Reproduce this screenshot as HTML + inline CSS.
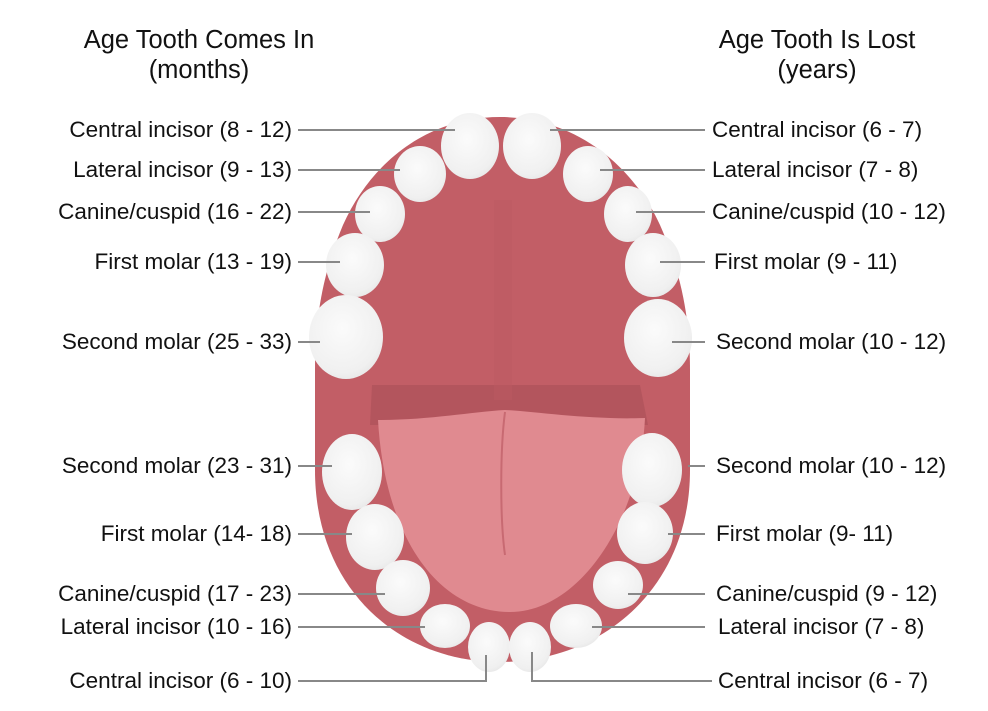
<!DOCTYPE html>
<html><head><style>
body{margin:0;background:#fff;width:988px;height:711px;overflow:hidden}
svg{display:block}
text{font-family:"Liberation Sans",Arial,sans-serif;fill:#111}
</style></head><body>
<svg width="988" height="711" viewBox="0 0 988 711">
<defs>
<radialGradient id="t" cx="0.45" cy="0.4" r="0.7"><stop offset="0" stop-color="#fbfbfb"/><stop offset="0.75" stop-color="#f0f0f0"/><stop offset="1" stop-color="#e2e2e2"/></radialGradient>
</defs>
<path d="M500,117 C570,117 630,160 660,225 C682,275 690,320 690,370 L690,470 C690,590 600,662 500,662 C400,662 315,590 315,470 L315,370 C315,320 322,275 343,225 C372,160 430,117 500,117Z" fill="#c25e66"/>
<path d="M372,385 L640,385 L648,425 L370,425Z" fill="#b3555d"/>
<path d="M494,200 L512,200 L512,400 L494,400Z" fill="#bb5a62" opacity="0.5"/>
<path d="M378,420 C430,420 470,412 505,410 C540,412 590,420 645,418 C640,520 580,612 510,612 C440,612 385,540 378,420Z" fill="#e08a90"/>
<path d="M505,412 C500,450 500,520 505,555" stroke="#c86a72" stroke-width="2" fill="none"/>
<g fill="url(#t)">
<ellipse cx="470" cy="146" rx="29" ry="33"/>
<ellipse cx="532" cy="146" rx="29" ry="33"/>
<ellipse cx="420" cy="174" rx="26" ry="28"/>
<ellipse cx="588" cy="174" rx="25" ry="28"/>
<ellipse cx="380" cy="214" rx="25" ry="28"/>
<ellipse cx="628" cy="214" rx="24" ry="28"/>
<ellipse cx="355" cy="265" rx="29" ry="32"/>
<ellipse cx="653" cy="265" rx="28" ry="32"/>
<ellipse cx="346" cy="337" rx="37" ry="42"/>
<ellipse cx="658" cy="338" rx="34" ry="39"/>
<ellipse cx="352" cy="472" rx="30" ry="38"/>
<ellipse cx="652" cy="470" rx="30" ry="37"/>
<ellipse cx="375" cy="537" rx="29" ry="33"/>
<ellipse cx="645" cy="533" rx="28" ry="31"/>
<ellipse cx="403" cy="588" rx="27" ry="28"/>
<ellipse cx="618" cy="585" rx="25" ry="24"/>
<ellipse cx="445" cy="626" rx="25" ry="22"/>
<ellipse cx="576" cy="626" rx="26" ry="22"/>
<ellipse cx="489" cy="647" rx="21" ry="25"/>
<ellipse cx="530" cy="647" rx="21" ry="25"/>
</g>
<g stroke="#888" stroke-width="2" fill="none">
<path d="M298,130H455M550,130H705"/>
<path d="M298,170H400M600,170H705"/>
<path d="M298,212H370M636,212H705"/>
<path d="M298,262H340M660,262H705"/>
<path d="M298,342H320M672,342H705"/>
<path d="M298,466H332M688,466H705"/>
<path d="M298,534H352M668,534H705"/>
<path d="M298,594H385M628,594H705"/>
<path d="M298,627H425M592,627H705"/>
<path d="M298,681H486V655M532,652V681H712"/>
</g>
<g font-size="25.5" text-anchor="middle">
<text x="199" y="48">Age Tooth Comes In</text>
<text x="199" y="78">(months)</text>
<text x="817" y="48">Age Tooth Is Lost</text>
<text x="817" y="78">(years)</text>
</g>
<g font-size="22.5" text-anchor="end">
<text x="292" y="137">Central incisor (8 - 12)</text>
<text x="292" y="177">Lateral incisor (9 - 13)</text>
<text x="292" y="219">Canine/cuspid (16 - 22)</text>
<text x="292" y="269">First molar (13 - 19)</text>
<text x="292" y="349">Second molar (25 - 33)</text>
<text x="292" y="473">Second molar (23 - 31)</text>
<text x="292" y="541">First molar (14- 18)</text>
<text x="292" y="601">Canine/cuspid (17 - 23)</text>
<text x="292" y="634">Lateral incisor (10 - 16)</text>
<text x="292" y="688">Central incisor (6 - 10)</text>
</g>
<g font-size="22.5">
<text x="712" y="137">Central incisor (6 - 7)</text>
<text x="712" y="177">Lateral incisor (7 - 8)</text>
<text x="712" y="219">Canine/cuspid (10 - 12)</text>
<text x="714" y="269">First molar (9 - 11)</text>
<text x="716" y="349">Second molar (10 - 12)</text>
<text x="716" y="473">Second molar (10 - 12)</text>
<text x="716" y="541">First molar (9- 11)</text>
<text x="716" y="601">Canine/cuspid (9 - 12)</text>
<text x="718" y="634">Lateral incisor (7 - 8)</text>
<text x="718" y="688">Central incisor (6 - 7)</text>
</g>
</svg>
</body></html>
